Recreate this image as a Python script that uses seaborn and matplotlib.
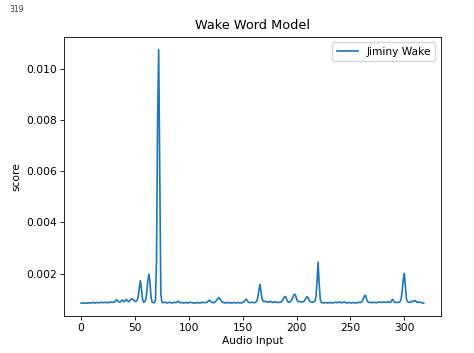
import numpy as np
import pandas as pd
import matplotlib
matplotlib.use('Agg')
import matplotlib.pyplot as plt
import seaborn as sns

# scores, one per audio frame (0..318)
scores = [
    0.00085, 0.00084, 0.00084, 0.00085, 0.00085, 0.00084, 0.00085, 0.00086, 0.00085, 0.00085,
    0.00086, 0.00087, 0.00086, 0.00085, 0.00086, 0.00087, 0.00086, 0.00086, 0.00087, 0.00088,
    0.00087, 0.00086, 0.00087, 0.00088, 0.00087, 0.00086, 0.00087, 0.00088, 0.00089, 0.00088,
    0.00087, 0.00089, 0.00093, 0.00098, 0.00094, 0.00089, 0.00088, 0.00092, 0.00097, 0.00093,
    0.00090, 0.00095, 0.00099, 0.00094, 0.00090, 0.00093, 0.00098, 0.00102, 0.00099, 0.00095,
    0.00092, 0.00091, 0.00095, 0.00110, 0.00145, 0.00172, 0.00140, 0.00100, 0.00088, 0.00090,
    0.00098, 0.00130, 0.00175, 0.00198, 0.00160, 0.00105, 0.00088, 0.00086, 0.00087, 0.00095,
    0.00250, 0.00800, 0.01075, 0.00600, 0.00120, 0.00088, 0.00086, 0.00087, 0.00089, 0.00086,
    0.00085, 0.00087, 0.00088, 0.00086, 0.00085, 0.00086, 0.00087, 0.00088, 0.00086, 0.00089,
    0.00092, 0.00088, 0.00086, 0.00087, 0.00086, 0.00085, 0.00086, 0.00087, 0.00086, 0.00085,
    0.00086, 0.00087, 0.00088, 0.00086, 0.00085, 0.00086, 0.00085, 0.00086, 0.00087, 0.00086,
    0.00085, 0.00086, 0.00087, 0.00088, 0.00087, 0.00086, 0.00087, 0.00089, 0.00092, 0.00096,
    0.00092, 0.00088, 0.00087, 0.00086, 0.00088, 0.00092, 0.00097, 0.00103, 0.00106, 0.00100,
    0.00093, 0.00089, 0.00087, 0.00086, 0.00085, 0.00086, 0.00087, 0.00086, 0.00085, 0.00086,
    0.00085, 0.00086, 0.00087, 0.00086, 0.00085, 0.00086, 0.00087, 0.00086, 0.00085, 0.00086,
    0.00087, 0.00089, 0.00094, 0.00100, 0.00096, 0.00090, 0.00087, 0.00086, 0.00087, 0.00088,
    0.00087, 0.00086, 0.00088, 0.00092, 0.00105, 0.00135, 0.00158, 0.00130, 0.00100, 0.00092,
    0.00090, 0.00092, 0.00090, 0.00088, 0.00089, 0.00091, 0.00090, 0.00088, 0.00087, 0.00089,
    0.00090, 0.00088, 0.00087, 0.00088, 0.00087, 0.00088, 0.00090, 0.00095, 0.00104, 0.00110,
    0.00110, 0.00096, 0.00089, 0.00088, 0.00090, 0.00094, 0.00102, 0.00112, 0.00120, 0.00116,
    0.00100, 0.00092, 0.00090, 0.00091, 0.00090, 0.00089, 0.00090, 0.00092, 0.00098, 0.00106,
    0.00110, 0.00102, 0.00094, 0.00090, 0.00089, 0.00088, 0.00089, 0.00092, 0.00110, 0.00170,
    0.00245, 0.00160, 0.00098, 0.00087, 0.00086, 0.00085, 0.00086, 0.00087, 0.00086, 0.00085,
    0.00086, 0.00087, 0.00086, 0.00085, 0.00086, 0.00087, 0.00088, 0.00087, 0.00086, 0.00088,
    0.00089, 0.00087, 0.00086, 0.00087, 0.00089, 0.00088, 0.00086, 0.00085, 0.00086, 0.00087,
    0.00086, 0.00085, 0.00086, 0.00087, 0.00086, 0.00085, 0.00086, 0.00087, 0.00088, 0.00087,
    0.00088, 0.00092, 0.00102, 0.00112, 0.00115, 0.00100, 0.00090, 0.00087, 0.00088, 0.00087,
    0.00086, 0.00087, 0.00088, 0.00087, 0.00086, 0.00087, 0.00088, 0.00089, 0.00088, 0.00087,
    0.00088, 0.00089, 0.00088, 0.00087, 0.00089, 0.00090, 0.00088, 0.00087, 0.00092, 0.00100,
    0.00093, 0.00088, 0.00087, 0.00088, 0.00087, 0.00088, 0.00090, 0.00100, 0.00130, 0.00175,
    0.00200, 0.00150, 0.00100, 0.00090, 0.00088, 0.00087, 0.00089, 0.00092, 0.00090, 0.00093,
    0.00095, 0.00091, 0.00088, 0.00087, 0.00089, 0.00088, 0.00086, 0.00085, 0.00084,
]
frames = list(range(len(scores)))
series_label = 'Jiminy Wake'

df = pd.DataFrame({'frame': frames, 'score': scores})

plt.rcParams['font.family'] = ['DejaVu Sans']
fig, ax = plt.subplots(figsize=(4.74, 3.53), dpi=100)
fig.subplots_adjust(left=0.135, right=0.930, top=0.895, bottom=0.105)

sns.lineplot(x='frame', y='score', data=df, ax=ax, color='#1f77b4',
             linewidth=1.2, label=series_label)

ax.set_title('Wake Word Model', fontsize=9.3)
ax.set_xlabel('Audio Input', fontsize=7.7, labelpad=2)
ax.set_ylabel('score', fontsize=7.7, labelpad=3)
ax.tick_params(labelsize=7.7, length=2.7, width=0.6, pad=2.5)
for s in ax.spines.values():
    s.set_linewidth(0.6)
ax.legend(loc='upper right', fontsize=7.7, frameon=True)

fig.text(0.02, 0.965, '319', fontsize=5.5, color='#444444')

fig.savefig('out.png', dpi=100)
